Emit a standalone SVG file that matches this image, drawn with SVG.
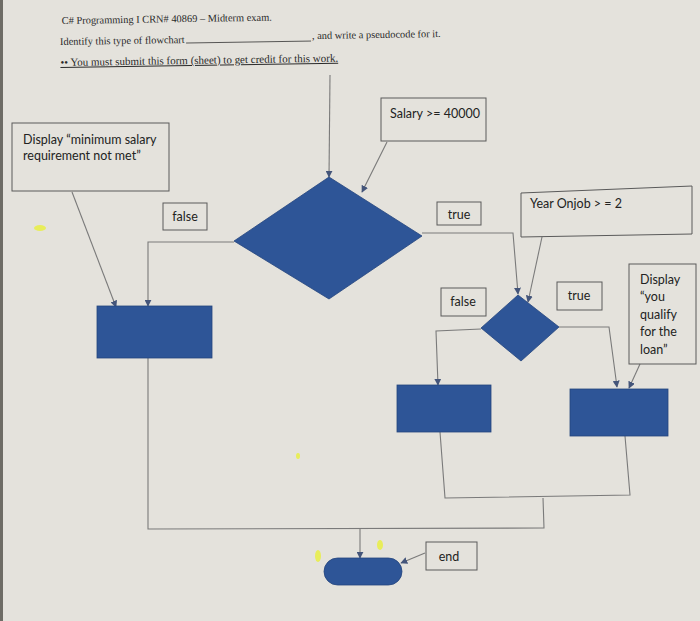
<svg xmlns="http://www.w3.org/2000/svg" width="700" height="621" viewBox="0 0 700 621">
<defs>
<marker id="arr" viewBox="0 0 10 10" refX="9" refY="5" markerWidth="7" markerHeight="7" orient="auto" markerUnits="userSpaceOnUse">
<path d="M0,0 L10,5 L0,10 z" fill="#44557a"/>
</marker>
</defs>
<style>
.hdr{font-family:"Liberation Serif","Times New Roman",serif;font-size:10.4px;fill:#2a2a2a}
.lbl{font-family:Lato,"Liberation Sans",sans-serif;font-size:12.5px;fill:#222}
.box{fill:none;stroke:#5a5a5a;stroke-width:1}
.blue{fill:#2e5597;stroke:#24457d;stroke-width:0.8}
.ln{fill:none;stroke:#7a7a7a;stroke-width:1.1}
.ar{fill:none;stroke:#7a7a7a;stroke-width:1.1;marker-end:url(#arr)}
.hl{fill:#e8f03a;opacity:0.8}
</style>
<rect x="0" y="0" width="700" height="621" fill="#e4e2dc"/>
<rect x="0" y="0" width="3" height="621" fill="#6e6c66"/>

<g id="header" transform="rotate(-0.9 60 40)">
<text class="hdr" x="62" y="24">C# Programming I CRN# 40869 – Midterm exam.</text>
<text class="hdr" x="60" y="45">Identify this type of flowchart</text>
<line x1="186" y1="45" x2="311" y2="45" stroke="#333" stroke-width="0.8"/>
<text class="hdr" x="312" y="43">, and write a pseudocode for it.</text>
<text class="hdr" x="60" y="66" style="font-size:11px" text-decoration="underline">•• You must submit this form (sheet) to get credit for this work.</text>
</g>

<g id="highlights">
<ellipse class="hl" cx="40" cy="228" rx="6" ry="3"/>
<ellipse class="hl" cx="318" cy="556" rx="3" ry="6"/>
<ellipse class="hl" cx="380" cy="545" rx="3" ry="5"/>
<ellipse class="hl" cx="298" cy="456" rx="2" ry="3" opacity="0.4"/>
</g>

<g id="connectors">
<line class="ar" x1="330" y1="75" x2="329" y2="177"/>
<line class="ar" x1="387" y1="142" x2="362" y2="192"/>
<line class="ar" x1="72" y1="192" x2="116" y2="307"/>
<polyline class="ar" points="234,242 148,242 148,306"/>
<polyline class="ar" points="422,233 513,233 518,294"/>
<line class="ar" x1="542" y1="237" x2="528" y2="302"/>
<polyline class="ar" points="481,329 436,331 438,385"/>
<polyline class="ar" points="559,327 609,327 617,387"/>
<line class="ar" x1="640" y1="364" x2="629" y2="388"/>
<polyline class="ln" points="148,358 148,529 544,528 543,498"/>
<polyline class="ln" points="440,432 445,498 630,495 625,436"/>
<line class="ar" x1="360" y1="529" x2="360" y2="558"/>
<line class="ar" x1="425" y1="553" x2="401" y2="563"/>
</g>

<g id="salary-label">
<rect class="box" x="381" y="98" width="105" height="43"/>
<text class="lbl" x="390" y="118">Salary &gt;= 40000</text>
</g>

<g id="decision1">
<polygon class="blue" points="329,177 422,236 329,299 234,241"/>
</g>

<g id="min-salary-label">
<rect class="box" x="12" y="123" width="157" height="68"/>
<text class="lbl" x="23" y="144">Display “minimum salary</text>
<text class="lbl" x="23" y="160">requirement not met”</text>
</g>

<g id="false1">
<rect class="box" x="163" y="203" width="44" height="27"/>
<text class="lbl" x="185" y="221" text-anchor="middle">false</text>
</g>

<g id="true1">
<rect class="box" x="437" y="202" width="44" height="23"/>
<text class="lbl" x="459" y="219" text-anchor="middle">true</text>
</g>

<g id="process-left">
<rect class="blue" x="97" y="306" width="115" height="52"/>
</g>

<g id="yearonjob-label">
<polygon class="box" points="521,193 692,186 692,234 521,237"/>
<text class="lbl" x="530" y="208">Year Onjob &gt; = 2</text>
</g>

<g id="decision2">
<polygon class="blue" points="518,295 559,327 521,361 481,328"/>
</g>

<g id="false2">
<rect class="box" x="441" y="288" width="45" height="28"/>
<text class="lbl" x="463" y="306" text-anchor="middle">false</text>
</g>

<g id="true2">
<rect class="box" x="557" y="282" width="45" height="28"/>
<text class="lbl" x="579" y="300" text-anchor="middle">true</text>
</g>

<g id="qualify-label">
<rect class="box" x="629" y="264" width="67" height="100"/>
<text class="lbl" x="640" y="284">Display</text>
<text class="lbl" x="640" y="301">“you</text>
<text class="lbl" x="640" y="319">qualify</text>
<text class="lbl" x="640" y="336">for the</text>
<text class="lbl" x="640" y="354">loan”</text>
</g>

<g id="process-mid">
<rect class="blue" x="397" y="385" width="94" height="47"/>
</g>

<g id="process-right">
<rect class="blue" x="570" y="389" width="98" height="47"/>
</g>

<g id="terminator">
<rect class="blue" x="324" y="558" width="78" height="27" rx="13.5" ry="13.5"/>
</g>

<g id="end-label">
<rect class="box" x="426" y="542" width="51" height="28"/>
<text class="lbl" x="449" y="561" text-anchor="middle">end</text>
</g>
</svg>
